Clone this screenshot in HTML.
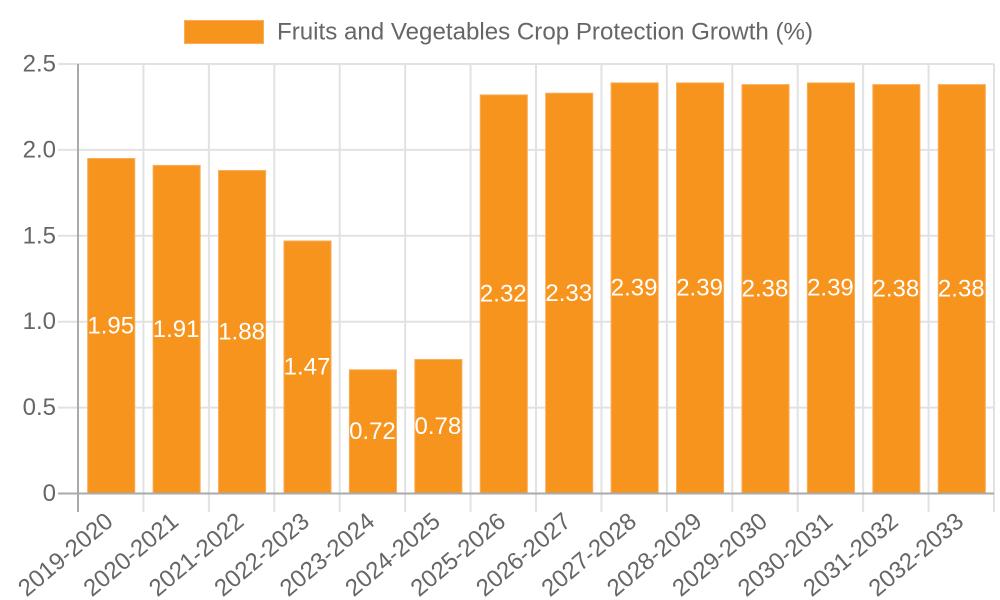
<!DOCTYPE html>
<html><head><meta charset="utf-8"><style>
html,body{margin:0;padding:0;background:#fff;}
svg{display:block;font-family:"Liberation Sans",Arial,sans-serif;}
</style></head><body>
<svg width="1000" height="600" viewBox="0 0 1000 600" xmlns="http://www.w3.org/2000/svg">
<!-- legend -->
<rect x="184.5" y="20.5" width="79" height="23" fill="#f7941e" stroke="#f9ae5a" stroke-width="1"/>
<text x="277" y="32" font-size="24" fill="#666" dominant-baseline="central" textLength="536" lengthAdjust="spacingAndGlyphs">Fruits and Vegetables Crop Protection Growth (%)</text>
<!-- horizontal grid -->
<g stroke="#e2e2e2" stroke-width="2">
<line x1="58" y1="64" x2="994" y2="64"/>
<line x1="58" y1="149.9" x2="994" y2="149.9"/>
<line x1="58" y1="235.8" x2="994" y2="235.8"/>
<line x1="58" y1="321.7" x2="994" y2="321.7"/>
<line x1="58" y1="407.6" x2="994" y2="407.6"/>
</g>
<!-- vertical grid -->
<g stroke="#e2e2e2" stroke-width="2">
<line x1="143.43" y1="64" x2="143.43" y2="512"/>
<line x1="208.86" y1="64" x2="208.86" y2="512"/>
<line x1="274.29" y1="64" x2="274.29" y2="512"/>
<line x1="339.71" y1="64" x2="339.71" y2="512"/>
<line x1="405.14" y1="64" x2="405.14" y2="512"/>
<line x1="470.57" y1="64" x2="470.57" y2="512"/>
<line x1="536" y1="64" x2="536" y2="512"/>
<line x1="601.43" y1="64" x2="601.43" y2="512"/>
<line x1="666.86" y1="64" x2="666.86" y2="512"/>
<line x1="732.29" y1="64" x2="732.29" y2="512"/>
<line x1="797.71" y1="64" x2="797.71" y2="512"/>
<line x1="863.14" y1="64" x2="863.14" y2="512"/>
<line x1="928.57" y1="64" x2="928.57" y2="512"/>
<line x1="994" y1="64" x2="994" y2="512"/>
</g>
<!-- bars -->
<g fill="#f7941e" stroke="#f9ae5a" stroke-width="1">
<rect x="87.66" y="158.5" width="47.1" height="335"/>
<rect x="153.09" y="165.4" width="47.1" height="328.1"/>
<rect x="218.52" y="170.5" width="47.1" height="323"/>
<rect x="283.95" y="241" width="47.1" height="252.5"/>
<rect x="349.38" y="369.8" width="47.1" height="123.7"/>
<rect x="414.81" y="359.5" width="47.1" height="134"/>
<rect x="480.24" y="94.9" width="47.1" height="398.6"/>
<rect x="545.66" y="93.2" width="47.1" height="400.3"/>
<rect x="611.09" y="82.9" width="47.1" height="410.6"/>
<rect x="676.52" y="82.9" width="47.1" height="410.6"/>
<rect x="741.95" y="84.6" width="47.1" height="408.9"/>
<rect x="807.38" y="82.9" width="47.1" height="410.6"/>
<rect x="872.81" y="84.6" width="47.1" height="408.9"/>
<rect x="938.24" y="84.6" width="47.1" height="408.9"/>
</g>
<!-- axes -->
<line x1="78" y1="64" x2="78" y2="512" stroke="#aaa" stroke-width="2"/>
<line x1="58" y1="493.5" x2="994" y2="493.5" stroke="#aaa" stroke-width="2"/>
<!-- y labels -->
<g font-size="24" fill="#666" text-anchor="end" dominant-baseline="central">
<text x="56" y="64">2.5</text>
<text x="56" y="149.9">2.0</text>
<text x="56" y="235.8">1.5</text>
<text x="56" y="321.7">1.0</text>
<text x="56" y="407.6">0.5</text>
<text x="56" y="493.5">0</text>
</g>
<!-- data labels -->
<g font-size="24" fill="#fff" text-anchor="middle" dominant-baseline="central">
<text x="110.71" y="326">1.95</text>
<text x="176.14" y="329.5">1.91</text>
<text x="241.57" y="332">1.88</text>
<text x="307" y="367.2">1.47</text>
<text x="372.43" y="431.6">0.72</text>
<text x="437.86" y="426.5">0.78</text>
<text x="503.29" y="294.2">2.32</text>
<text x="568.71" y="293.4">2.33</text>
<text x="634.14" y="288.2">2.39</text>
<text x="699.57" y="288.2">2.39</text>
<text x="765" y="289">2.38</text>
<text x="830.43" y="288.2">2.39</text>
<text x="895.86" y="289">2.38</text>
<text x="961.29" y="289">2.38</text>
</g>
<!-- x labels -->
<g font-size="24" fill="#666" text-anchor="end" dominant-baseline="central">
<text x="109.71" y="518" transform="rotate(-40 109.71 518)">2019-2020</text>
<text x="175.14" y="518" transform="rotate(-40 175.14 518)">2020-2021</text>
<text x="240.57" y="518" transform="rotate(-40 240.57 518)">2021-2022</text>
<text x="306" y="518" transform="rotate(-40 306 518)">2022-2023</text>
<text x="371.43" y="518" transform="rotate(-40 371.43 518)">2023-2024</text>
<text x="436.86" y="518" transform="rotate(-40 436.86 518)">2024-2025</text>
<text x="502.29" y="518" transform="rotate(-40 502.29 518)">2025-2026</text>
<text x="567.71" y="518" transform="rotate(-40 567.71 518)">2026-2027</text>
<text x="633.14" y="518" transform="rotate(-40 633.14 518)">2027-2028</text>
<text x="698.57" y="518" transform="rotate(-40 698.57 518)">2028-2029</text>
<text x="764" y="518" transform="rotate(-40 764 518)">2029-2030</text>
<text x="829.43" y="518" transform="rotate(-40 829.43 518)">2030-2031</text>
<text x="894.86" y="518" transform="rotate(-40 894.86 518)">2031-2032</text>
<text x="960.29" y="518" transform="rotate(-40 960.29 518)">2032-2033</text>
</g>
</svg>
</body></html>
